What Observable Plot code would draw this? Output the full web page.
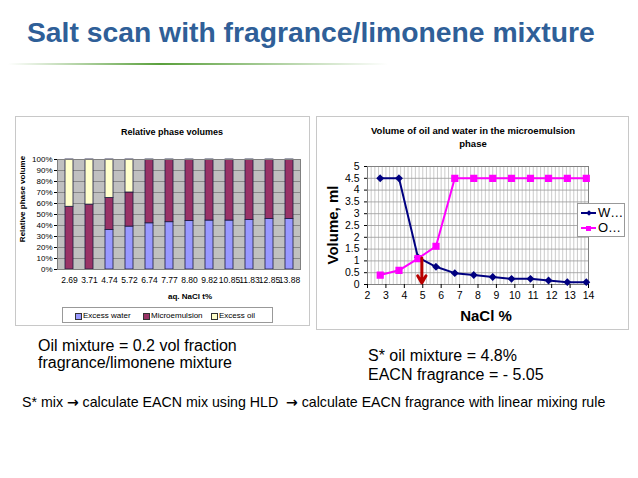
<!DOCTYPE html>
<html><head><meta charset="utf-8">
<script src="https://cdn.jsdelivr.net/npm/d3@7"></script>
<script src="https://cdn.jsdelivr.net/npm/@observablehq/plot@0.6"></script>
<style>
body{margin:0;background:#fff;font-family:Arial,"Liberation Sans",sans-serif;}
#page{position:relative;width:638px;height:478px;overflow:hidden;background:#fff;}
.abs{position:absolute;white-space:nowrap;line-height:1;}
.c{transform:translate(-50%,-50%);}
.rot{transform:translate(-50%,-50%) rotate(-90deg);}
.panel{position:absolute;border:1px solid #c8c8c8;box-sizing:border-box;}
.sq{position:absolute;width:5px;height:5px;border:1px solid #333;top:5px;}
.arr{font-family:"DejaVu Sans",sans-serif;font-weight:bold;font-size:14px;}
</style></head><body><div id="page">
<div class="abs" style="left:27px;top:18px;font-size:28.3px;font-weight:bold;color:#2f5f98;line-height:28px;">Salt scan with fragrance/limonene mixture</div>
<div class="abs" style="left:8px;top:63px;width:380px;height:2px;background:linear-gradient(to right,rgba(90,160,60,0),#5aa03c 40%,rgba(90,160,60,0));"></div>

<div class="panel" style="left:15px;top:116px;width:295px;height:210px;"></div>
<div class="panel" style="left:316px;top:116px;width:313px;height:214px;"></div>
<div id="leftChart" style="position:absolute;left:15px;top:116px;"></div>
<div id="rightChart" style="position:absolute;left:316px;top:116px;"></div>

<div class="abs c" style="left:172px;top:131.5px;font-size:9px;font-weight:bold;">Relative phase volumes</div>
<div class="abs rot" style="left:22.5px;top:199px;font-size:8px;font-weight:bold;">Relative phase volume</div>
<div class="abs c" style="left:190px;top:297px;font-size:8px;font-weight:bold;">aq. NaCl t%</div>
<div id="leftLegend" style="position:absolute;left:62px;top:307px;width:211px;height:16px;border:1px solid #999;box-sizing:border-box;background:#fff;font-size:8px;"></div>

<div class="abs c" style="left:473px;top:131px;font-size:9.5px;font-weight:bold;">Volume of oil and water in the microemulsion</div>
<div class="abs c" style="left:473px;top:143.5px;font-size:9.5px;font-weight:bold;">phase</div>
<div class="abs rot" style="left:332px;top:225px;font-size:15px;font-weight:bold;">Volume, ml</div>
<div class="abs c" style="left:486px;top:315px;font-size:15px;font-weight:bold;">NaCl %</div>
<div id="rightLegend" style="position:absolute;left:577px;top:203px;width:48px;height:34px;border:1px solid #999;box-sizing:border-box;background:#fff;font-size:13px;"></div>

<div class="abs" style="left:38px;top:336.5px;font-size:16px;line-height:17.5px;">Oil mixture = 0.2 vol fraction<br>fragrance/limonene mixture</div>
<div class="abs" style="left:368px;top:346px;font-size:16px;line-height:19px;">S* oil mixture = 4.8%<br>EACN fragrance = - 5.05</div>
<div class="abs" style="left:22px;top:394px;font-size:14.2px;line-height:16px;">S* mix <span class="arr">&#8594;</span> calculate EACN mix using HLD &nbsp;<span class="arr">&#8594;</span> calculate EACN fragrance with linear mixing rule</div>
</div>
<script>
// ---- Left chart data: relative phase volumes (%) ----
const naclLabels = ["2.69","3.71","4.74","5.72","6.74","7.77","8.80","9.82","10.85","11.83","12.85","13.88"];
const excessWater   = [0, 0, 36, 39, 42, 43, 44, 44.5, 44.5, 45, 46, 46];
const microemulsion = [57, 59, 29, 31, 58, 57, 56, 55.5, 55.5, 55, 54, 54];
const excessOil     = [43, 41, 35, 30, 0, 0, 0, 0, 0, 0, 0, 0];
const phaseNames  = ["Excess water", "Microemulsion", "Excess oil"];
const phaseColors = ["#9999ff", "#993366", "#ffffcc"];
const percentTicks = [0,10,20,30,40,50,60,70,80,90,100];

// ---- Right chart data: volume in microemulsion phase (ml) ----
const naclValues = [2.69, 3.71, 4.74, 5.72, 6.74, 7.77, 8.80, 9.82, 10.85, 11.83, 12.85, 13.88];
const waterInME  = [4.5, 4.5, 1.15, 0.75, 0.48, 0.40, 0.32, 0.24, 0.24, 0.17, 0.10, 0.10];
const oilInME    = [0.40, 0.60, 1.10, 1.62, 4.5, 4.5, 4.5, 4.5, 4.5, 4.5, 4.5, 4.5];
const seriesNames  = ["W\u2026", "O\u2026"];
const seriesColors = ["#000080", "#ff00ff"];
const volumeTicks = [0,0.5,1,1.5,2,2.5,3,3.5,4,4.5,5];
const naclTicks = [2,3,4,5,6,7,8,9,10,11,12,13,14];
const optimumX = [4.95], arrowTop = [1.12], arrowBottom = [0.06];

const font = "Arial, 'Liberation Sans', sans-serif";

// Left chart
const phaseRows = [];
naclLabels.forEach((n, i) => {
  [excessWater, microemulsion, excessOil].forEach((arr, k) => {
    phaseRows.push({nacl: n, phase: phaseNames[k], value: arr[i]});
  });
});
const left = Plot.plot({
  width: 294, height: 209,
  marginLeft: 42, marginRight: 9, marginTop: 43, marginBottom: 56,
  style: {fontFamily: font, fontSize: "8px", color: "#000", background: "transparent"},
  x: {type: "band", domain: naclLabels, paddingInner: 0.6, paddingOuter: 0.3, label: null},
  y: {domain: [0, 100], label: null},
  color: {domain: phaseNames, range: phaseColors},
  marks: [
    Plot.frame({fill: "#c0c0c0", stroke: "none"}),
    Plot.ruleY(percentTicks.slice(1), {stroke: "#7a7a7a", strokeWidth: 0.8}),
    Plot.barY(phaseRows, {x: "nacl", y: "value", fill: "phase", stroke: "#1a1a40", strokeWidth: 0.8}),
    Plot.frame({stroke: "#808080"}),
    Plot.axisY({ticks: percentTicks, tickFormat: d => d + "%", tickSize: 3, tickPadding: 2, fontSize: 8}),
    Plot.axisX({tickSize: 0, tickPadding: 7, fontSize: 8.5})
  ]
});
document.getElementById("leftChart").appendChild(left);

// Left legend
const ll = document.getElementById("leftLegend");
const legX = [12, 80, 148];
phaseNames.forEach((p, k) => {
  const s = document.createElement("div");
  s.className = "sq"; s.style.left = legX[k] + "px"; s.style.background = phaseColors[k];
  ll.appendChild(s);
  const t = document.createElement("div");
  t.className = "abs"; t.style.left = (legX[k] + 8) + "px"; t.style.top = "3.5px"; t.textContent = p;
  ll.appendChild(t);
});

// Right chart
const wRows = naclValues.map((x, i) => ({x, y: waterInME[i]}));
const oRows = naclValues.map((x, i) => ({x, y: oilInME[i]}));
const arrowRows = optimumX.map((x, i) => ({x, y1: arrowTop[i], y2: arrowBottom[i]}));
const minorX = d3.range(61).map(i => 2 + i * 0.2);
const right = Plot.plot({
  width: 312, height: 213,
  marginLeft: 51, marginRight: 40, marginTop: 50, marginBottom: 45,
  style: {fontFamily: font, fontSize: "10.5px", color: "#000", background: "transparent"},
  x: {domain: [2, 14], label: null},
  y: {domain: [0, 5], label: null},
  marks: [
    Plot.ruleX(minorX, {stroke: "#b4b4b4", strokeWidth: 0.7}),
    Plot.ruleY(volumeTicks, {stroke: "#9a9a9a", strokeWidth: 0.8}),
    Plot.frame({stroke: "#808080"}),
    Plot.line(wRows, {x: "x", y: "y", stroke: seriesColors[0], strokeWidth: 2}),
    Plot.dot(wRows, {x: "x", y: "y", symbol: "diamond2", r: 2.6, fill: seriesColors[0], stroke: seriesColors[0]}),
    Plot.line(oRows, {x: "x", y: "y", stroke: seriesColors[1], strokeWidth: 2}),
    Plot.dot(oRows, {x: "x", y: "y", symbol: "square", r: 3.2, fill: seriesColors[1], stroke: seriesColors[1]}),
    Plot.arrow(arrowRows, {x1: "x", x2: "x", y1: "y1", y2: "y2", stroke: "#b80000", strokeWidth: 3, headLength: 10}),
    Plot.axisY({ticks: volumeTicks, tickFormat: d => String(d), tickSize: 3, tickPadding: 5, fontSize: 10.5}),
    Plot.axisX({ticks: naclTicks, tickFormat: d => String(d), tickSize: 4, tickPadding: 3, fontSize: 10.5})
  ]
});
document.getElementById("rightChart").appendChild(right);

// Right legend
const rl = document.getElementById("rightLegend");
seriesNames.forEach((n, k) => {
  const cy = 9 + k * 15;
  const line = document.createElement("div");
  line.style.cssText = `position:absolute;left:3px;top:${cy - 1}px;width:15px;height:2px;background:${seriesColors[k]};`;
  rl.appendChild(line);
  const m = document.createElement("div");
  const sz = k === 0 ? 4 : 5;
  m.style.cssText = `position:absolute;left:${10.5 - sz / 2}px;top:${cy - sz / 2}px;width:${sz}px;height:${sz}px;background:${seriesColors[k]};` + (k === 0 ? "transform:rotate(45deg);" : "");
  rl.appendChild(m);
  const t = document.createElement("div");
  t.className = "abs"; t.style.left = "20px"; t.style.top = (cy - 7) + "px"; t.style.fontSize = "13px"; t.textContent = n;
  rl.appendChild(t);
});
</script>
</body></html>
